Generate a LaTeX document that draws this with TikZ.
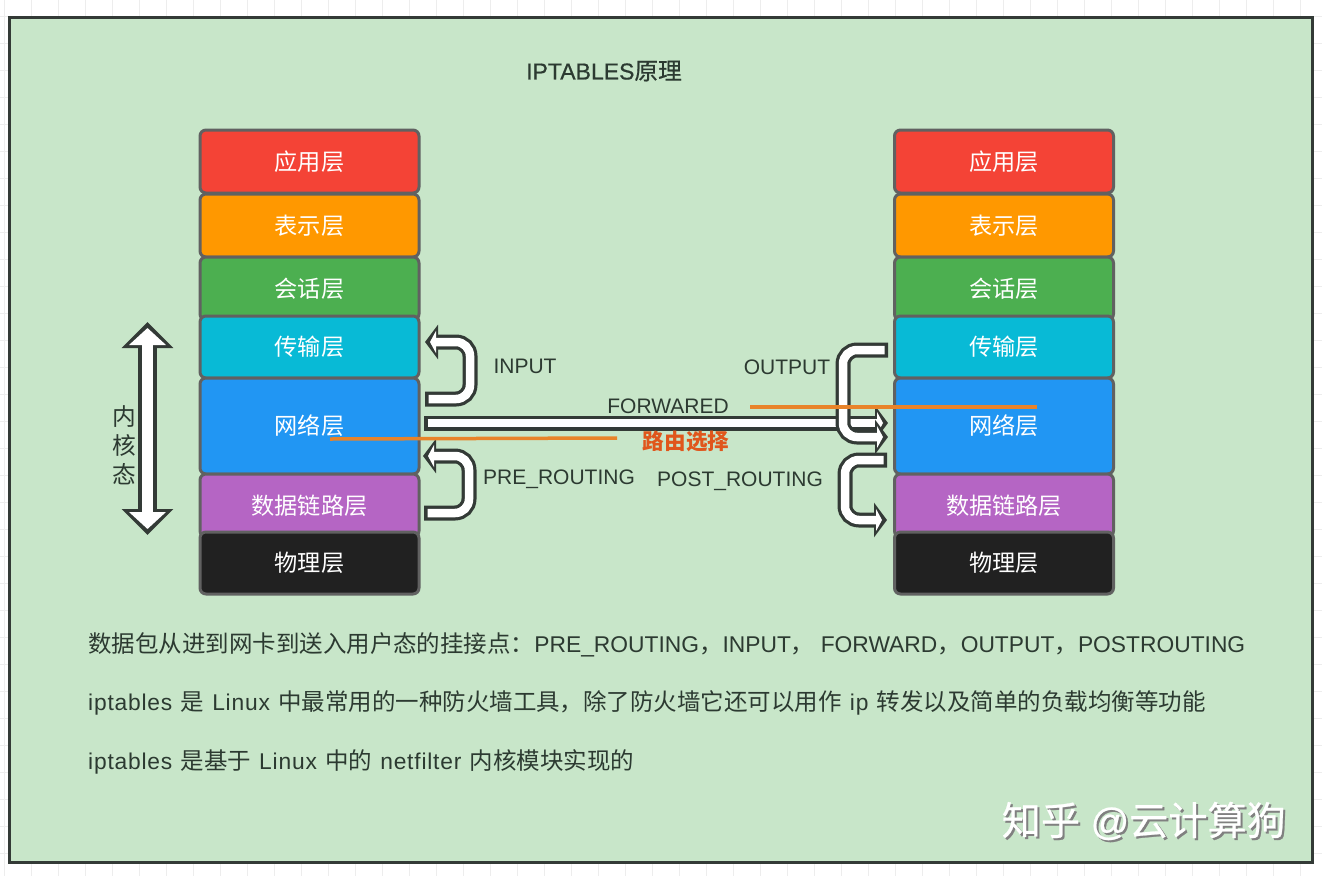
\documentclass[tikz,border=0pt]{standalone}
\usepackage{fontspec}
\usetikzlibrary{positioning, arrows.meta}
\setmainfont{Liberation Sans}
\newfontfamily\cjk[Scale=1.03]{Noto Sans CJK SC}
\newfontfamily\cjkheavy[Scale=1.03,FakeBold=0.6]{Noto Sans CJK SC}
\newfontfamily\latheavy[FakeBold=0.6]{Liberation Sans}
\newfontfamily\wide[LetterSpace=3.5,WordSpace=1.15]{Liberation Sans}
\newcommand{\cn}[1]{{\cjk #1}}
\newcommand{\lat}[1]{{\wide #1}}
\definecolor{panelgreen}{HTML}{C8E6C9}
\definecolor{edgedark}{HTML}{333A36}
\definecolor{layeredge}{HTML}{616161}
\definecolor{textdark}{HTML}{2C3A31}
\definecolor{linkorange}{HTML}{E8832A}
\definecolor{noteorange}{HTML}{E0561C}
\definecolor{layerred}{HTML}{F44336}
\definecolor{layerorange}{HTML}{FF9800}
\definecolor{layergreen}{HTML}{4CAF50}
\definecolor{layercyan}{HTML}{08BAD6}
\definecolor{layerblue}{HTML}{2196F3}
\definecolor{layerpurple}{HTML}{B565C4}
\definecolor{layerblack}{HTML}{212121}
\tikzset{
	x=1pt, y=-1pt, % coordinates are the pixels of the picture
	layer/.style={draw=layeredge, line width=3pt, rounded corners=6pt, minimum width=219pt, minimum height=63pt, outer sep=0pt, inner sep=0pt, text=white, font=\fontsize{22.5}{27}\selectfont},
	tag/.style={text=textdark, inner sep=0pt, font=\fontsize{21}{25}\selectfont},
	para/.style={text=textdark, anchor=west, inner sep=0pt, font=\fontsize{22.8}{27}\selectfont},
	hollow/.style={ % white arrow with a dark outline
		preaction={draw=edgedark, line width=15pt, shorten >=0pt, shorten <=0pt, -{Triangle[length=13pt,width=34pt]}},
		draw=white, line width=8.5pt, shorten >=5pt, shorten <=3.5pt, -{Triangle[length=6pt,width=22pt]}, rounded corners=14pt},
	bighollow/.style={
		preaction={draw=edgedark, line width=19pt, shorten >=0pt, shorten <=0pt, {Triangle[length=26pt,width=50pt]}-{Triangle[length=26pt,width=50pt]}},
		draw=white, line width=11pt, shorten >=6pt, shorten <=6pt, {Triangle[length=17pt,width=36pt]}-{Triangle[length=17pt,width=36pt]}},
	link/.style={draw=linkorange, line width=3.5pt},
}
\begin{document}
\begin{tikzpicture}
	\useasboundingbox (0,0) rectangle (1322,876);
	\fill[white] (0,0) rectangle (1322,876);
	\foreach \gx in {4,31,...,1322} \draw[black!7] (\gx,0) -- (\gx,876);
	\foreach \gy in {16,43,...,876} \draw[black!7] (0,\gy) -- (1322,\gy);
	\node[draw=edgedark, fill=panelgreen, line width=3pt, minimum width=1303pt, minimum height=845pt, inner sep=0pt] (panel) at (660.5,439.5) {};
	\node[text=textdark, inner sep=0pt, font=\fontsize{23}{26}\selectfont] (title) at (604,71) {{\latheavy IPTABLES}{\cjkheavy 原理}};

	% left stack
	\node[layer, fill=layerred] (app1) at (309.5,161.5) {\cn{应用层}};
	\node[layer, fill=layerorange, below=1pt of app1] (pres1) {\cn{表示层}};
	\node[layer, fill=layergreen, below=0pt of pres1] (sess1) {\cn{会话层}};
	\node[layer, fill=layercyan, below=-4pt of sess1, minimum height=62pt] (trans1) {\cn{传输层}};
	\node[layer, fill=layerblue, below=0pt of trans1, minimum height=96pt] (net1) {\cn{网络层}};
	\node[layer, fill=layerpurple, below=0pt of net1] (link1) {\cn{数据链路层}};
	\node[layer, fill=layerblack, below=-5pt of link1, minimum height=62pt] (phys1) {\cn{物理层}};

	% right stack
	\node[layer, fill=layerred] (app2) at (1004,161.5) {\cn{应用层}};
	\node[layer, fill=layerorange, below=1pt of app2] (pres2) {\cn{表示层}};
	\node[layer, fill=layergreen, below=0pt of pres2] (sess2) {\cn{会话层}};
	\node[layer, fill=layercyan, below=-4pt of sess2, minimum height=62pt] (trans2) {\cn{传输层}};
	\node[layer, fill=layerblue, below=0pt of trans2, minimum height=96pt] (net2) {\cn{网络层}};
	\node[layer, fill=layerpurple, below=0pt of net2] (link2) {\cn{数据链路层}};
	\node[layer, fill=layerblack, below=-5pt of link2, minimum height=62pt] (phys2) {\cn{物理层}};

	% arrow ends
	\coordinate (kernelT) at (147.5,322);
	\coordinate (kernelB) at (147.5,535);
	\coordinate (inputS) at (425,399);
	\coordinate (inputM) at (470,342);
	\coordinate (inputE) at (425,342);
	\coordinate (preS) at (424,513);
	\coordinate (preM) at (469,456);
	\coordinate (preE) at (423,456);
	\coordinate (fwdS) at (424,423);
	\coordinate (fwdE) at (888,423);
	\coordinate (outS) at (888,350);
	\coordinate (outM) at (843,437);
	\coordinate (outE) at (888,437);
	\coordinate (postS) at (887,460);
	\coordinate (postM) at (845,520);
	\coordinate (postE) at (887,520);
	\coordinate (route1) at (330,439);
	\coordinate (route2) at (617,438);
	\coordinate (fwdA) at (750,407);
	\coordinate (fwdB) at (1037,407);

	\draw[bighollow] (kernelT) -- (kernelB);
	\draw[hollow] (inputS) -| (inputM) -- (inputE);
	\draw[hollow] (preS) -| (preM) -- (preE);
	\draw[hollow] (fwdS) -- (fwdE);
	\draw[hollow] (outS) -| (outM) -- (outE);
	\draw[hollow] (postS) -| (postM) -- (postE);
	\draw[link] (route1) -- (route2);
	\draw[link] (fwdA) -- (fwdB);

	\node[tag, align=center, font=\fontsize{23}{29}\selectfont] (kernel) at (124,445) {\cn{内}\\\cn{核}\\\cn{态}};
	\node[tag] (input) at (525,366.5) {INPUT};
	\node[tag] (output) at (787,367.5) {OUTPUT};
	\node[tag] (forward) at (668,406.5) {FORWARED};
	\node[tag] (prer) at (559,479.5) {PRE\_ROUTING};
	\node[tag] (postr) at (740,481) {POST\_ROUTING};
	\node[tag, text=noteorange, font=\fontsize{21}{25}\selectfont\bfseries] (routing) at (686,441) {\cn{路由选择}};

	\node[para] (line1) at (88,645) {\cn{数据包从进到网卡到送入用户态的挂接点：}PRE\_ROUTING\cn{，}INPUT\cn{，} FORWARD\cn{，}OUTPUT\cn{，}POSTROUTING};
	\node[para] (line2) at (88,703) {\lat{iptables }\cn{是}\lat{\ Linux }\cn{中最常用的一种防火墙工具，除了防火墙它还可以用作}\lat{\ ip }\cn{转发以及简单的负载均衡等功能}};
	\node[para] (line3) at (88,762) {\lat{iptables }\cn{是基于}\lat{\ Linux }\cn{中的}\lat{\ netfilter }\cn{内核模块实现的}};

	\node[text=black!50, inner sep=0pt, anchor=east, font=\fontsize{38}{42}\selectfont] (markshade) at (1288,823) {{\cjkheavy 知乎} {\latheavy @}{\cjkheavy 云计算狗}};
	\node[text=white, inner sep=0pt, anchor=east, font=\fontsize{38}{42}\selectfont] (mark) at (1286,821) {{\cjkheavy 知乎} {\latheavy @}{\cjkheavy 云计算狗}};
\end{tikzpicture}
\end{document}
